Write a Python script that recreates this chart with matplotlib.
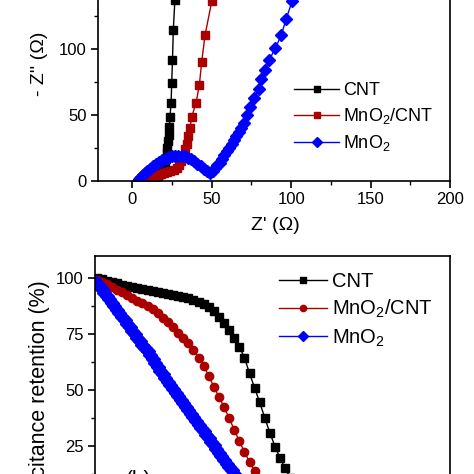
import numpy as np
import matplotlib.pyplot as plt
from matplotlib.ticker import MultipleLocator

plt.rcParams['font.family'] = ['Liberation Sans', 'DejaVu Sans']
plt.rcParams['mathtext.default'] = 'regular'

# --- (a) Nyquist data: Z' and -Z'' (Ohm) ---
cnt_zre = [4.5, 6, 8, 10, 12, 14, 16, 17.5, 18.5, 19.5, 20.3, 21.0, 21.6, 22.1,
           22.6, 23.0, 23.4, 23.7, 24.4, 24.8, 25.3, 25.8, 26.8, 28.0]
cnt_zim = [0, 0.3, 0.7, 1.2, 1.8, 2.5, 3.5, 5, 7, 10, 13, 17, 21, 25,
           30, 35, 41, 48.7, 58.9, 74, 91.7, 114.4, 137, 160]

mc_zre = [4, 6, 8, 10, 12, 14, 16, 18, 20, 22, 24, 26, 28, 29.5, 30.8, 32,
          33.2, 34.2, 35.3, 36.3, 37.4, 40.1, 42.2, 43.7, 45.8, 50, 54]
mc_zim = [0, 0.8, 1.5, 2.3, 3, 3.8, 4.5, 5.3, 6, 6.8, 7.5, 8.5, 10, 12, 15, 19,
          24, 28, 34, 40, 48.7, 58.9, 72.7, 90.4, 110.6, 136, 160]

mn_zre = [3.8, 4.5, 5.5, 6.5, 8, 9.5, 11, 13, 15, 17, 19, 21, 23, 25, 27, 29,
          31, 33, 35, 37, 39, 41, 43, 45, 47, 48.9, 50.5, 52, 53.5, 55, 56.5,
          58, 59.5, 61, 62.5, 64, 65.5, 67, 68.5, 70, 72, 74, 76.4, 79.6, 81,
          83.7, 86.2, 90, 93.8, 96.9, 100.6, 104]
mn_zim = [0, 1.5, 3, 4.5, 6, 7.5, 9, 11, 13, 14.5, 16, 17, 18, 18.6, 19, 19.1,
          19, 18.6, 17.8, 16.5, 14.8, 13, 11, 9.2, 7.5, 6.3, 7.8, 9.8, 11.8,
          13.5, 16.5, 19.5, 22.5, 25, 28, 31, 34, 37, 40.5, 44, 50, 56, 62.6,
          69.5, 77, 84, 91.7, 100.5, 110.6, 123, 136, 150]

# --- (b) capacitance retention (%) ---
cnt_ret = [100.3, 99.6, 99.0, 98.4, 97.8, 97.2, 96.7, 96.2, 95.7, 95.2, 94.8,
           94.3, 93.9, 93.4, 93.0, 92.5, 92.0, 91.5, 91.0, 90.4, 89.6, 88.5,
           87.0, 85.2, 82.8, 80.0, 76.8, 73.5, 69.5, 64.5, 57.5, 51.0, 44.5,
           37.5, 30.8, 24.8, 19.5, 15.0, 10.8, 7.0, 3.5]
mc_ret = [99.4, 98.4, 97.3, 96.2, 95.0, 93.8, 92.5, 91.2, 90.0, 88.8, 87.6,
          86.3, 84.6, 82.5, 80.5, 78.3, 75.6, 73.2, 71.0, 68.0, 64.5, 61.0,
          56.3, 51.6, 47.0, 42.5, 37.5, 32.3, 27.2, 22.4, 17.8, 13.8, 9.8, 6.0]
mn_ret = [98.0, 96.6, 95.1, 93.6, 92.0, 90.6, 89.2, 87.6, 86.0, 84.4, 82.7,
          81.2, 79.6, 78.1, 76.6, 75.0, 73.5, 72.0, 70.4, 68.9, 67.3, 65.6,
          63.9, 62.2, 60.5, 58.8, 57.1, 55.5, 53.8, 52.2, 50.6, 48.9, 47.3,
          45.7, 44.1, 42.6, 41.0, 39.4, 37.8, 36.1, 34.5, 33.0, 31.6, 30.1,
          28.6, 27.0, 25.3, 23.6, 22.0, 20.4, 18.8, 17.2, 15.6, 14.1, 12.6,
          11.0, 9.5, 8.0, 6.5, 5.0, 3.5]

cnt_cyc = np.arange(len(cnt_ret)) * 100
mc_cyc = np.arange(len(mc_ret)) * 100
mn_cyc = np.arange(len(mn_ret)) * 50

black = 'black'
red = '#aa0000'
blue = '#0000ff'

W = 474.0
fig = plt.figure(figsize=(4.74, 4.74), dpi=100)

# top panel, spans above the canvas (cropped figure)
ax1 = fig.add_axes([98 / W, 1 - 181 / W, 352 / W, 198 / W])
# bottom panel, spans below the canvas
ax2 = fig.add_axes([95 / W, 1 - 502 / W, 355 / W, 246 / W])

ax1.plot(cnt_zre, cnt_zim, '-s', color=black, mfc=black, mec=black, ms=5.5, lw=1, label='CNT')
ax1.plot(mc_zre, mc_zim, '-s', color=red, mfc=red, mec=red, ms=5.5, lw=1, label='MnO$_2$/CNT')
ax1.plot(mn_zre, mn_zim, '-D', color=blue, mfc=blue, mec=blue, ms=6.5, lw=1, label='MnO$_2$')
ax1.set_xlim(-21.6, 200)
ax1.set_ylim(0, 150)
ax1.xaxis.set_major_locator(MultipleLocator(50))
ax1.xaxis.set_minor_locator(MultipleLocator(25))
ax1.yaxis.set_major_locator(MultipleLocator(50))
ax1.yaxis.set_minor_locator(MultipleLocator(25))
ax1.legend(loc='upper left', bbox_to_anchor=(294 / W, 1 - 82 / W), bbox_transform=fig.transFigure,
           frameon=False, borderpad=0, borderaxespad=0, fontsize=13, handlelength=2.5,
           handletextpad=0.2, labelspacing=0.4, markerscale=0.8)

ax2.plot(cnt_cyc, cnt_ret, '-s', color=black, mfc=black, mec=black, ms=5.5, lw=1, label='CNT')
ax2.plot(mc_cyc, mc_ret, '-o', color=red, mfc=red, mec=red, ms=6, lw=1, label='MnO$_2$/CNT')
ax2.plot(mn_cyc, mn_ret, '-D', color=blue, mfc=blue, mec=blue, ms=7, lw=1, label='MnO$_2$')
ax2.set_xlim(-30, 6930)
ax2.set_ylim(0, 110)
ax2.yaxis.set_major_locator(MultipleLocator(25))
ax2.yaxis.set_minor_locator(MultipleLocator(12.5))
ax2.xaxis.set_major_locator(MultipleLocator(1000))
ax2.xaxis.set_minor_locator(MultipleLocator(500))
ax2.legend(loc='upper left', bbox_to_anchor=(279 / W, 1 - 272 / W), bbox_transform=fig.transFigure,
           frameon=False, borderpad=0, borderaxespad=0, fontsize=14.5, handlelength=2.4,
           handletextpad=0.25, labelspacing=0.35, markerscale=0.75)

for ax in (ax1, ax2):
    for s in ax.spines.values():
        s.set_linewidth(1.2)
    ax.tick_params(which='major', direction='out', length=5, width=1.2, labelsize=12, pad=3,
                   top=False, right=False)
    ax.tick_params(which='minor', direction='out', length=3, width=1.0, top=False, right=False)

fig.text(40 / W, 1 - 64 / W, "- Z'' (Ω)", rotation=90, ha='center', va='center', fontsize=14)
fig.text(275 / W, 1 - 226 / W, "Z' (Ω)", ha='center', va='center', fontsize=14)
fig.text(40 / W, 1 - 280 / W, 'Capacitance retention (%)', rotation=90, ha='center', va='top',
         fontsize=15.5)
fig.text(126 / W, 1 - 470 / W, '(b)', ha='left', va='top', fontsize=15)

fig.savefig('out.png', dpi=100)
